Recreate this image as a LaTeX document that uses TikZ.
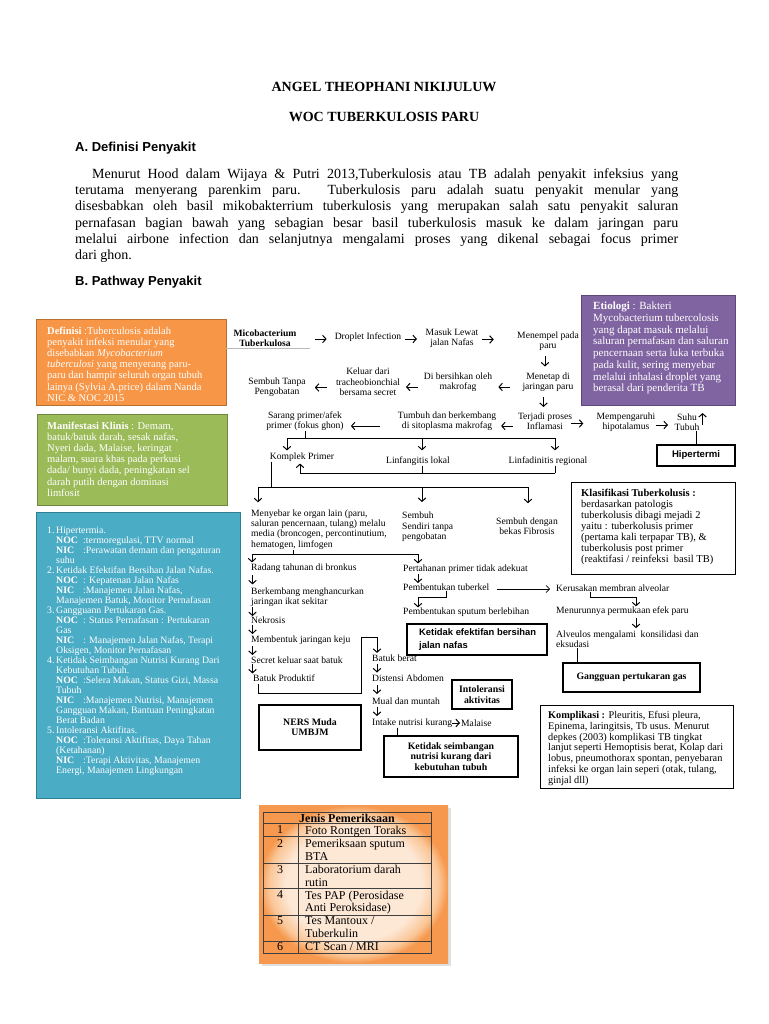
\documentclass[tikz,border=0pt]{standalone}
\usepackage{fontspec}
\setmainfont{Liberation Serif}
\newfontfamily\hsans{Liberation Sans}
\usetikzlibrary{arrows.meta,calc}
\definecolor{orfill}{RGB}{247,150,70}
\definecolor{ordraw}{RGB}{183,112,47}
\definecolor{grfill}{RGB}{155,187,89}
\definecolor{grdraw}{RGB}{113,137,63}
\definecolor{blfill}{RGB}{75,172,198}
\definecolor{bldraw}{RGB}{47,127,147}
\definecolor{pufill}{RGB}{128,100,162}
\definecolor{pudraw}{RGB}{92,72,120}
\definecolor{peach}{RGB}{253,231,213}
\definecolor{peachmid}{RGB}{250,198,150}
\definecolor{tblor}{RGB}{246,152,78}
\pgfdeclareradialshading{tblshade}{\pgfpoint{0bp}{0bp}}{color(0bp)=(peach); color(18bp)=(peach); color(22.5bp)=(peachmid); color(25bp)=(tblor); color(50bp)=(tblor)}
\newcommand\numlbl[1]{\makebox[9pt][l]{#1}}
\newcommand\indnt{\hspace*{9pt}}
\newcommand\kwlbl[1]{\makebox[27pt][l]{\textbf{#1}}}
\newcommand\harrow[4]{\draw[ar] ($(#1.east)!.5!(#2.west)+(#3-6,#4)$) -- ++(12,0);}
\newcommand\larrow[4]{\draw[ar] ($(#1.west)!.5!(#2.east)+(#3+6,#4)$) -- ++(-12,0);}
\newcommand\darrow[4]{\draw[ar] ($(#1.south)!.5!(#2.north)+(#3,#4-5)$) -- ++(0,10);}
\newcommand\dlarrow[3]{\draw[ar] ($(#1.south west)!.5!(#2.north west)+(#3,-4.5)$) -- ++(0,9);}
\newcommand\dfont{\fontsize{9.6}{10.4}\selectfont}
\begin{document}
\begin{tikzpicture}[x=1pt,y=-1pt,
  dt/.style={inner sep=0pt, align=center, font=\dfont},
  dl/.style={inner sep=0pt, align=left, anchor=west, font=\dfont},
  ar/.style={-{Straight Barb[length=3.4pt,width=7.5pt,line width=1pt]}, line width=1pt},
  ln/.style={line width=0.8pt},
  thickbox/.style={draw, line width=2pt, inner sep=0pt, align=center, font=\bfseries\fontsize{9.8}{10.4}\selectfont},
  colbox/.style={draw, line width=1.4pt, inner sep=0pt, anchor=north west},
  thinbox/.style={draw, line width=0.9pt, inner sep=0pt, anchor=north west},
  wtxt/.style={text=white, inner sep=0pt, anchor=north west, align=left},
  btxt/.style={inner sep=0pt, anchor=north west, align=left},
  tline/.style={line width=1pt, draw=black!75},
  tbt/.style={inner sep=0pt, font=\fontsize{12}{12.6}\selectfont},
  tbl/.style={inner sep=0pt, anchor=north west, align=left, font=\fontsize{12}{12.6}\selectfont}
]
\useasboundingbox (0,0) rectangle (768,1024);
\fill[white] (0,0) rectangle (768,1024);

% ---------- header ----------
\node[inner sep=0, font=\bfseries\fontsize{14}{16}\selectfont] (t1) at (384,87) {ANGEL THEOPHANI NIKIJULUW};
\node[inner sep=0, font=\bfseries\fontsize{14}{16}\selectfont] (t2) at (384,117) {WOC TUBERKULOSIS PARU};
\node[inner sep=0, anchor=west, font=\hsans\bfseries\fontsize{13}{15}\selectfont] (ha) at (75,148) {A. Definisi Penyakit};
\node[anchor=north west, inner sep=0, align=left, font=\fontsize{14}{16.2}\selectfont] (para) at (75,168.5) {%
\makebox[603pt][s]{\hspace*{17pt}Menurut Hood dalam Wijaya \& Putri 2013,Tuberkulosis atau TB adalah penyakit infeksius yang}\\
\makebox[603pt][s]{terutama menyerang parenkim paru. Tuberkulosis paru adalah suatu penyakit menular yang}\\
\makebox[603pt][s]{disesbabkan oleh basil mikobakterrium tuberkulosis yang merupakan salah satu penyakit saluran}\\
\makebox[603pt][s]{pernafasan bagian bawah yang sebagian besar basil tuberkulosis masuk ke dalam jaringan paru}\\
\makebox[603pt][s]{melalui airbone infection dan selanjutnya mengalami proses yang dikenal sebagai focus primer}\\
dari ghon.};
\node[inner sep=0, anchor=west, font=\hsans\bfseries\fontsize{13}{15}\selectfont] (hb) at (75,282) {B. Pathway Penyakit};

% ---------- coloured boxes left ----------
\node[colbox, fill=orfill, draw=ordraw, minimum width=190pt, minimum height=86pt] (defbox) at (36,319) {};
\node[wtxt, font=\fontsize{10.5}{11.1}\selectfont] (deft) at (47,327) {\textbf{Definisi} :Tuberculosis adalah\\penyakit infeksi menular yang\\disebabkan \textit{Mycobacterium}\\\textit{tuberculosi} yang menyerang paru-\\paru dan hampir seluruh organ tubuh\\lainya (Sylvia A.price) dalam Nanda\\NIC \& NOC 2015};

\node[colbox, fill=grfill, draw=grdraw, minimum width=190pt, minimum height=91pt] (manbox) at (37,414) {};
\node[wtxt, font=\fontsize{10.5}{11.1}\selectfont] (mant) at (47,422) {\textbf{Manifestasi Klinis} : Demam,\\batuk/batuk darah, sesak nafas,\\Nyeri dada, Malaise, keringat\\malam, suara khas pada perkusi\\dada/ bunyi dada, peningkatan sel\\darah putih dengan dominasi\\limfosit};

\node[colbox, fill=blfill, draw=bldraw, minimum width=204pt, minimum height=286pt] (blbox) at (36,512) {};
\node[wtxt, font=\fontsize{9.8}{10}\selectfont] (blt) at (47,527) {%
\numlbl{1.}Hipertermia.\\
\indnt\kwlbl{NOC}:termoregulasi, TTV normal\\
\indnt\kwlbl{NIC}:Perawatan demam dan pengaturan\\
\indnt suhu\\
\numlbl{2.}Ketidak Efektifan Bersihan Jalan Nafas.\\
\indnt\kwlbl{NOC}: Kepatenan Jalan Nafas\\
\indnt\kwlbl{NIC}:Manajemen Jalan Nafas,\\
\indnt Manajemen Batuk, Monitor Pernafasan\\
\numlbl{3.}Gangguann Pertukaran Gas.\\
\indnt\kwlbl{NOC}: Status Pernafasan : Pertukaran\\
\indnt Gas\\
\indnt\kwlbl{NIC}: Manajemen Jalan Nafas, Terapi\\
\indnt Oksigen, Monitor Pernafasan\\
\numlbl{4.}Ketidak Seimbangan Nutrisi Kurang Dari\\
\indnt Kebutuhan Tubuh.\\
\indnt\kwlbl{NOC}:Selera Makan, Status Gizi, Massa\\
\indnt Tubuh\\
\indnt\kwlbl{NIC}:Manajemen Nutrisi, Manajemen\\
\indnt Gangguan Makan, Bantuan Peningkatan\\
\indnt Berat Badan\\
\numlbl{5.}Intoleransi Aktifitas.\\
\indnt\kwlbl{NOC}:Toleransi Aktifitas, Daya Tahan\\
\indnt (Ketahanan)\\
\indnt\kwlbl{NIC}:Terapi Aktivitas, Manajemen\\
\indnt Energi, Manajemen Lingkungan};

% ---------- right boxes ----------
\node[colbox, fill=pufill, draw=pudraw, minimum width=154pt, minimum height=110pt] (etbox) at (581,295) {};
\node[wtxt, font=\fontsize{11}{11.7}\selectfont] (ett) at (593,302) {\textbf{Etiologi} : Bakteri\\Mycobacterium tubercolosis\\yang dapat masuk melalui\\saluran pernafasan dan saluran\\pencernaan serta luka terbuka\\pada kulit, sering menyebar\\melalui inhalasi droplet yang\\berasal dari penderita TB};

\node[thinbox, minimum width=164pt, minimum height=92pt] (klbox) at (571,482) {};
\node[btxt, font=\fontsize{10.5}{11}\selectfont] (klt) at (581,489) {\textbf{Klasifikasi Tuberkolusis :}\\berdasarkan patologis\\tuberkolusis dibagi mejadi 2\\yaitu : tuberkolusis primer\\(pertama kali terpapar TB), \&\\tuberkolusis post primer\\(reaktifasi / reinfeksi\ \ basil TB)};

\node[thinbox, minimum width=193pt, minimum height=83pt] (kobox) at (540,705) {};
\node[btxt, font=\fontsize{10.3}{10.8}\selectfont] (kot) at (548,711) {\textbf{Komplikasi :} Pleuritis, Efusi pleura,\\Epinema, laringitsis, Tb usus. Menurut\\depkes (2003) komplikasi TB tingkat\\lanjut seperti Hemoptisis berat, Kolap dari\\lobus, pneumothorax spontan, penyebaran\\infeksi ke organ lain seperi (otak, tulang,\\ginjal dll)};

% ---------- top flow ----------
\node[dt, font=\bfseries\dfont] (mt) at (265,338) {Micobacterium\\Tuberkulosa};
\draw[gray!55, line width=0.6pt] ($(mt.south west)+(-7,1.5)$) -- ($(mt.south east)+(13,1.5)$);
\node[dt] (di) at (368,337) {Droplet Infection};
\node[dt] (ml) at (452,338) {Masuk Lewat\\jalan Nafas};
\node[dt] (mp) at (548,341) {Menempel pada\\paru};
\node[dt] (mj) at (548,382) {Menetap di\\jaringan paru};
\node[dt] (db) at (458,382) {Di bersihkan oleh\\makrofag};
\node[dt] (kd) at (368,382) {Keluar dari\\tracheobionchial\\bersama secret};
\node[dt] (st) at (277,387) {Sembuh Tanpa\\Pengobatan};
\harrow{mt}{di}{5}{1.5}
\harrow{di}{ml}{-2.5}{1.5}
\harrow{ml}{mp}{-10}{0}
\darrow{mp}{mj}{-3}{0}
\larrow{mj}{db}{-3}{5}
\larrow{db}{kd}{0}{5}
\larrow{kd}{st}{0}{3}

% ---------- second row ----------
\node[dt] (sp) at (305,421) {Sarang primer/afek\\primer (fokus ghon)};
\node[dt] (tb) at (447,421) {Tumbuh dan berkembang\\di sitoplasma makrofag};
\node[dt] (tp) at (545,421) {Terjadi proses\\Inflamasi};
\node[dt] (mh) at (626,422) {Mempengaruhi\\hipotalamus};
\node[dt] (su) at (687,422) {Suhu\\Tubuh};
\node[thickbox, font=\hsans\bfseries\fontsize{9.6}{10}\selectfont, minimum width=78pt, minimum height=21pt] (hp) at (696,455.5) {Hipertermi};
\darrow{mj}{tp}{-3}{0}
\larrow{tp}{tb}{0}{5}
\draw[ar, shorten <=18pt, shorten >=7pt] ($(tb.west)+(0,5)$) -- ($(sp.east |- tb.west)+(0,5)$);
\harrow{tp}{mh}{-7}{2}
\harrow{mh}{su}{-3}{3}
\draw[ar] ($(su.east)+(3,3)$) -- ++(0,-12);
\draw[ln] (hp.north |- su.south) -- (hp.north);

% ---------- komplek primer ----------
\node[dt] (kp) at (302,457) {Komplek Primer};
\node[dt] (lf) at (418,461) {Linfangitis lokal};
\node[dt] (lr) at (548,461) {Linfadinitis regional};
\coordinate (b1l) at (287,438);
\coordinate (b1m) at (422,438);
\coordinate (b1r) at (555,438);
\draw[ln] (sp.south) -- (sp.south |- b1l);
\draw[ln] (b1l) -- (b1r);
\draw[ar, shorten >=2pt] (b1l) -- (b1l |- kp.north);
\draw[ar, shorten >=6pt] (b1m) -- (b1m |- lf.north);
\draw[ar, shorten >=6pt] (b1r) -- (b1r |- lr.north);
\coordinate (b2l) at (300,473);
\coordinate (b2m) at (422,473);
\coordinate (b2r) at (555,473);
\draw[ln] (lf.south -| b2m) -- (b2m);
\draw[ln] (lr.south -| b2r) -- (b2r);
\draw[ar, shorten >=2pt] (b2r) -- (b2l) -- (b2l |- kp.south);

\node[dl] (ms) at (251,529.5) {Menyebar ke organ lain (paru,\\saluran pencernaan, tulang) melalu\\media (broncogen, percontinutium,\\hematogen, limfogen};
\node[dl] (ss) at (402,527) {Sembuh\\Sendiri tanpa\\pengobatan};
\node[dt] (sf) at (527,526) {Sembuh dengan\\bekas Fibrosis};
\coordinate (b3k) at (271,487);
\coordinate (b3l) at (258,487);
\coordinate (b3m) at (422,487);
\coordinate (b3r) at (528,487);
\draw[ln] (kp.south -| b3k) -- (b3k);
\draw[ln] (b3l) -- (b3r);
\draw[ar, shorten >=7pt] (b3l) -- (b3l |- ms.north);
\draw[ar, shorten >=10pt] (b3m) -- (b3m |- ss.north);
\draw[ar, shorten >=14pt] (b3r) -- (b3r |- sf.north);

% ---------- lower left chain ----------
\node[dl] (rt) at (251,568) {Radang tahunan di bronkus};
\node[dl] (bm) at (251,597) {Berkembang menghancurkan\\jaringan ikat sekitar};
\node[dl] (nk) at (251,620) {Nekrosis};
\node[dl] (mk) at (251,640) {Membentuk jaringan keju};
\node[dl] (sk) at (251,660) {Secret keluar saat batuk};
\node[dl] (bp) at (253,678) {Batuk Produktif};
\node[dl] (pp) at (403,569) {Pertahanan primer tidak adekuat};
\node[dl] (pt) at (403,587) {Pembentukan tuberkel};
\node[dl] (ps) at (403,612) {Pembentukan sputum berlebihan};
\coordinate (b4k) at (293,554);
\coordinate (b4l) at (252,554);
\coordinate (b4r) at (418,554);
\draw[ln] (ms.south -| b4k) -- (b4k);
\draw[ln] (b4l) -- (b4r);
\draw[ar, shorten >=1pt] (b4l) -- (b4l |- rt.north);
\draw[ar, shorten >=1pt] (b4r) -- (b4r |- pp.north);
\dlarrow{rt}{bm}{1.5}
\dlarrow{bm}{nk}{1.5}
\dlarrow{nk}{mk}{1.5}
\dlarrow{mk}{sk}{1.5}
\dlarrow{sk}{bp}{0.5}
\dlarrow{pp}{pt}{15}
\coordinate (b5a) at (446,597);
\coordinate (b5b) at (418,597);
\draw[ar] (pt.south -| b5a) -- (b5a) -- (b5b) -- (b5b |- ps.north);

\node[thickbox, minimum width=140pt, minimum height=31pt] (ke) at (477,639.5) {};
\node[inner sep=0pt, anchor=west, align=left, font=\hsans\bfseries\fontsize{9.4}{12.7}\selectfont] (ket) at ($(ke.west)+(13,0)$) {Ketidak efektifan bersihan\\jalan nafas};

% ---------- right chain ----------
\node[dl] (ka) at (556,588) {Kerusakan membran alveolar};
\node[dl] (mn) at (556,611) {Menurunnya permukaan efek paru};
\node[dl] (al) at (556,639.5) {Alveulos mengalami\ \ konsilidasi dan\\eksudasi};
\node[thickbox, minimum width=137pt, minimum height=29pt] (gg) at (631.5,677.5) {Gangguan pertukaran gas};
\draw[-{Straight Barb[length=3.4pt,width=7pt]}, line width=0.7pt, shorten <=7pt, shorten >=6pt] ($(pt.east)+(0,2)$) -- ($(ka.west)+(0,1)$);
\coordinate (b6a) at (590,597);
\coordinate (b6b) at (636,597);
\draw[ar] (ka.south -| b6a) -- (b6a) -- (b6b) -- (b6b |- mn.north);
\draw[ar] ($(mn.south -| b6b)!.5!(al.north -| b6b)+(0,-5)$) -- ++(0,10);
\coordinate (gx) at (577,0);
\draw[ln] (al.south -| gx) -- (gx |- gg.north);

% ---------- middle chain ----------
\node[dl] (bb) at (372,658) {Batuk berat};
\node[dl] (da) at (372,678) {Distensi Abdomen};
\node[dl] (mm) at (372,701) {Mual dan muntah};
\node[dl] (ink) at (372,723) {Intake nutrisi kurang};
\node[dl] (ma) at (461,723) {Malaise};
\coordinate (bk1) at (361,693);
\coordinate (bk2) at (361,637);
\draw[ar] ($(bp.south west)+(5,2)$) |- (bk1) -- (bk2) -| ($(bb.north west)+(5,-1.5)$);
\dlarrow{bb}{da}{5}
\dlarrow{da}{mm}{5}
\dlarrow{mm}{ink}{5}
\draw[ar, shorten >=1pt] (ink.east) -- (ink.east -| ma.west);
\node[thickbox, minimum width=60pt, minimum height=29pt, font=\bfseries\fontsize{9.8}{11}\selectfont] (ia) at (482,694.5) {Intoleransi\\aktivitas};
\node[thickbox, minimum width=134pt, minimum height=41pt, font=\bfseries\fontsize{9.8}{10.2}\selectfont] (ks) at (451,756.5) {Ketidak seimbangan\\nutrisi kurang dari\\kebutuhan tubuh};
\coordinate (ikx) at (397,0);
\draw[ln] (ink.south -| ikx) -- (ikx |- ks.north);
\node[thickbox, line width=1.3pt, minimum width=102pt, minimum height=45pt, font=\bfseries\fontsize{9.8}{10.2}\selectfont] (ners) at (310,727.5) {NERS Muda\\UMBJM};

% ---------- table ----------
\fill[black!12] (262,808) rectangle (451,966);
\node[shading=tblshade, minimum width=189pt, minimum height=158pt, anchor=north west, inner sep=0pt] (tbg) at (259,805) {};
\draw[tline] (263,812) rectangle (431,953);
\foreach \yy in {823.5,836,863,888,915,941} \draw[tline] (263,\yy) -- (431,\yy);
\draw[tline] (298,823.5) -- (298,953);
\node[tbt, font=\bfseries\fontsize{12}{12.6}\selectfont] (th) at (347,818) {Jenis Pemeriksaan};
\node[tbt] (n1) at (280,830) {1};
\node[tbt] (n2) at (280,843.5) {2};
\node[tbt] (n3) at (280,869.5) {3};
\node[tbt] (n4) at (280,895) {4};
\node[tbt] (n5) at (280,921) {5};
\node[tbt] (n6) at (280,947) {6};
\node[tbl] (r1) at (305,825.5) {Foto Rontgen Toraks};
\node[tbl] (r2) at (305,839) {Pemeriksaan sputum\\BTA};
\node[tbl] (r3) at (305,865) {Laboratorium darah\\rutin};
\node[tbl] (r4) at (305,890.5) {Tes PAP (Perosidase\\Anti Peroksidase)};
\node[tbl] (r5) at (305,916.5) {Tes Mantoux /\\Tuberkulin};
\node[tbl] (r6) at (305,942.5) {CT Scan / MRI};
\end{tikzpicture}
\end{document}
